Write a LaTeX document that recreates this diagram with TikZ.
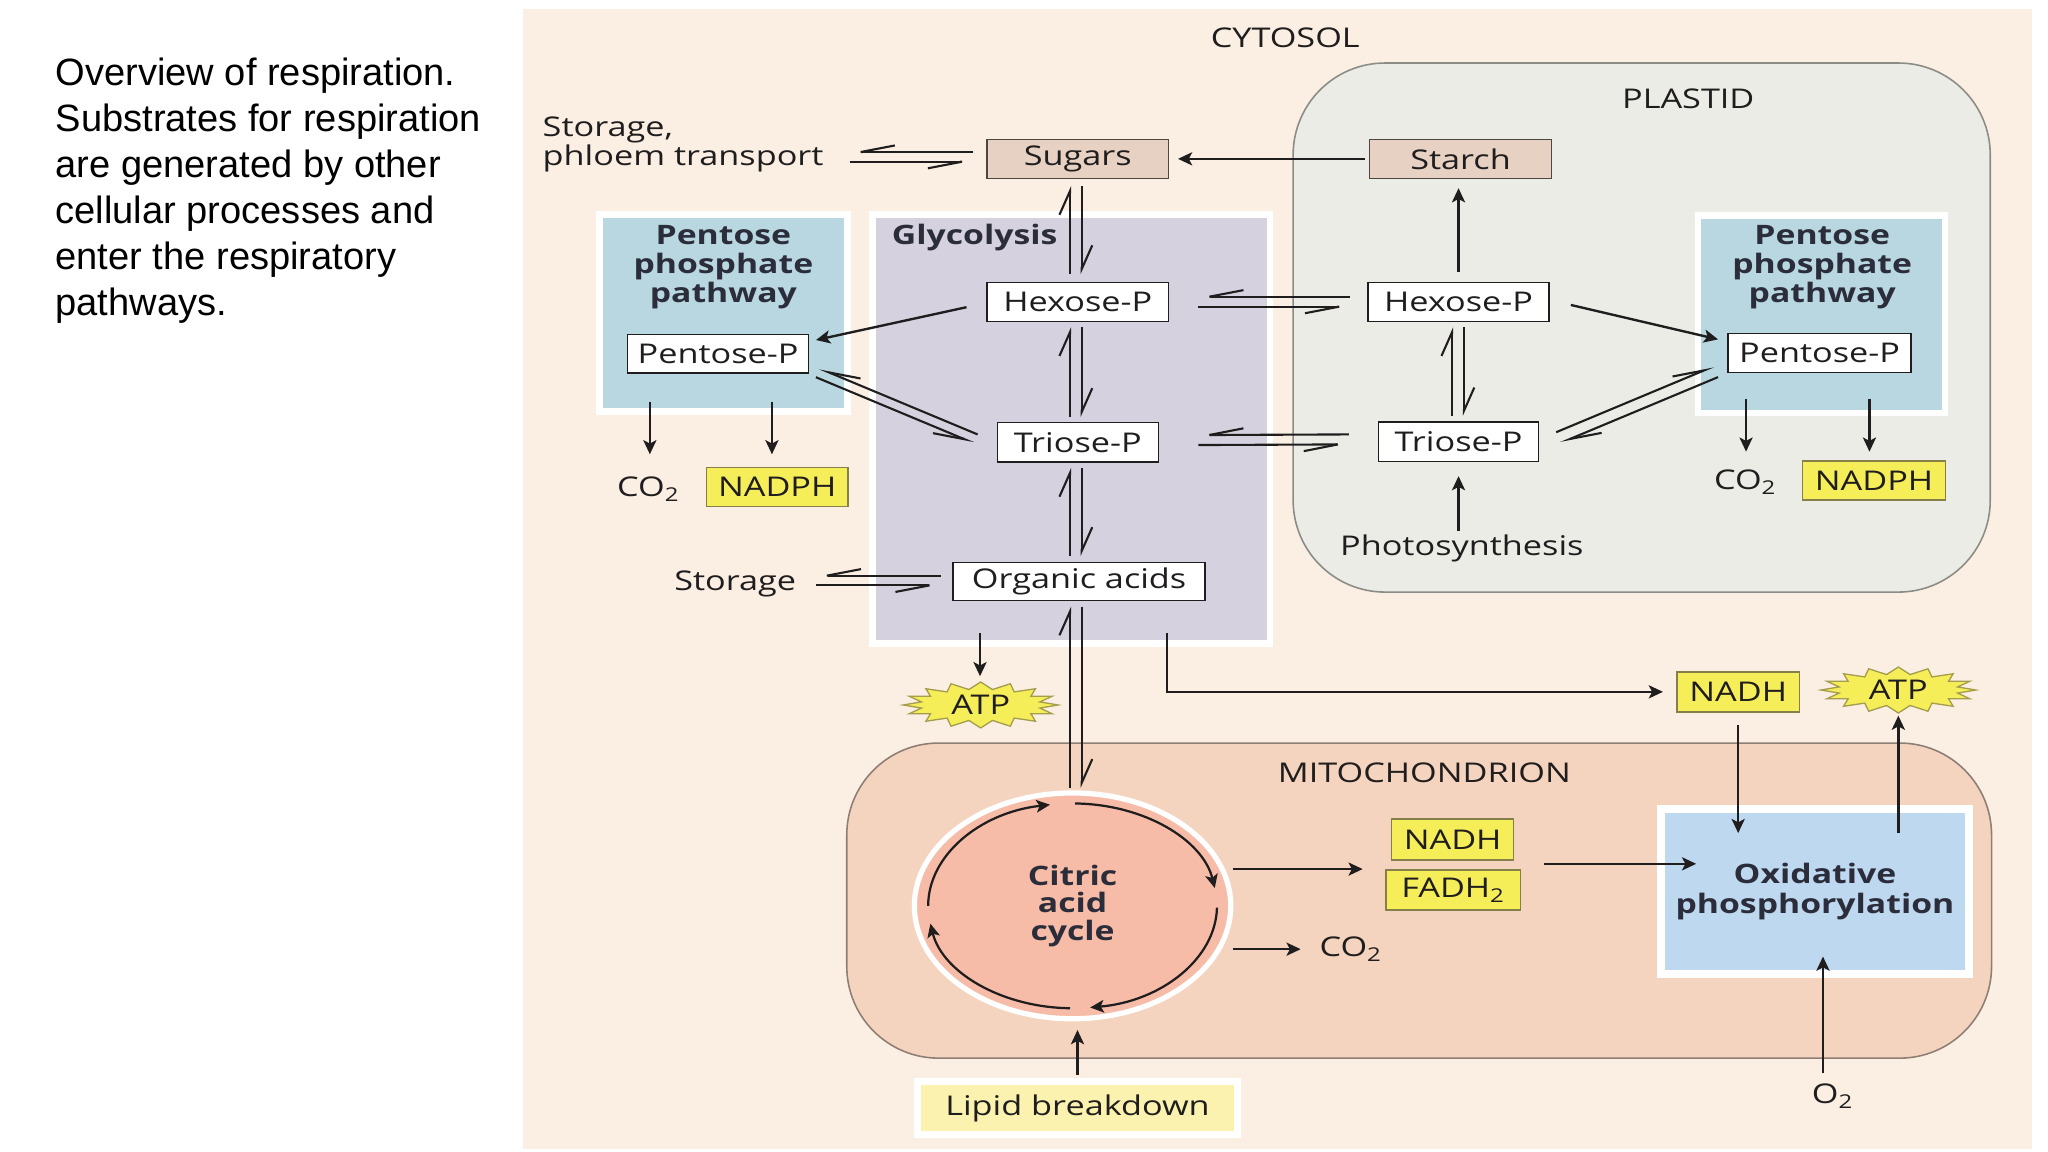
\documentclass[tikz,border=0pt]{standalone}
\usepackage{fontspec}
\setmainfont{Open Sans}[FakeStretch=1.26]
\newfontfamily\capfont{Liberation Sans}
\usetikzlibrary{arrows.meta,calc,shapes.geometric}
\definecolor{cyto}{HTML}{FBEFE3}
\definecolor{plastidc}{HTML}{ECECE7}
\definecolor{plastidl}{HTML}{8C8C86}
\definecolor{mitoc}{HTML}{F5D4BF}
\definecolor{mitol}{HTML}{8E7E74}
\definecolor{glycoc}{HTML}{D5D1DF}
\definecolor{pppc}{HTML}{B8D7E0}
\definecolor{oxc}{HTML}{BED8EF}
\definecolor{tcac}{HTML}{F6BCA7}
\definecolor{tanc}{HTML}{E7D1C3}
\definecolor{tanl}{HTML}{4E4641}
\definecolor{yelc}{HTML}{F6EE58}
\definecolor{yell}{HTML}{85804A}
\definecolor{lipidc}{HTML}{FAF2AE}
\definecolor{burstl}{HTML}{A39D4C}
\definecolor{ink}{HTML}{1F1D1D}
\definecolor{titlec}{HTML}{2B2D3B}
\newcommand{\pairL}[4]{%
  \draw[#1] ($(#3)!#2!90:(#4)$) -- ($(#4)!#2!-90:(#3)$);
  \draw[#1] ($(#4)!#2!90:(#3)$) -- ($(#3)!#2!-90:(#4)$);}
\newcommand{\pairR}[4]{%
  \draw[#1] ($(#3)!#2!-90:(#4)$) -- ($(#4)!#2!90:(#3)$);
  \draw[#1] ($(#4)!#2!-90:(#3)$) -- ($(#3)!#2!90:(#4)$);}
\newcommand{\burst}[2]{%
  \begin{scope}[shift={(#1,#2)}]
  \filldraw[fill=yelc, draw=burstl, line width=0.5pt]
    plot[samples at={0,...,31}, variable=\sn]
    ({(mod(\sn,2)==0 ? 59 : 46)*cos(\sn*11.25)}, {(mod(\sn,2)==0 ? 17.5 : 12)*sin(\sn*11.25)}) -- cycle;
  \end{scope}}
\begin{document}
\begin{tikzpicture}[x=0.5pt,y=-0.5pt,
  every node/.style={text=ink, font=\fontsize{10.35}{11}\selectfont},
  lbl/.style={inner sep=0pt},
  ttl/.style={inner sep=0pt, text=titlec, font=\fontsize{10.2}{11}\selectfont\bfseries, align=center},
  wbox/.style={draw=ink, line width=0.55pt, fill=white, inner sep=0pt, minimum height=14.8pt},
  tbox/.style={wbox, fill=tanc, draw=tanl},
  ybox/.style={wbox, fill=yelc, draw=yell},
  arr/.style={draw=ink, line width=0.9pt, -{Stealth[length=5.4pt, width=5pt, inset=1.3pt]}},
  cyc/.style={draw=ink, line width=0.85pt, -{Stealth[length=5.2pt, width=4.8pt, inset=1.2pt]}},
  hv/.style={draw=ink, line width=0.8pt, -{Straight Barb[left, length=9pt, width=8pt]}},
  hh/.style={draw=ink, line width=0.8pt, -{Straight Barb[right, length=13pt, width=5pt]}},
  hdr/.style={draw=ink, line width=0.8pt, -{Straight Barb[right, length=12pt, width=5pt]}},
  hdl/.style={draw=ink, line width=0.8pt, -{Straight Barb[left, length=12pt, width=5pt]}},
  captxt/.style={anchor=base west, inner sep=0pt, text=black, font=\capfont\fontsize{14.5}{17}\selectfont}
]
\useasboundingbox (0,0) rectangle (1560,877.5);
\fill[white] (0,0) rectangle (1560,877.5);
% caption
\node[captxt] (c1) at (42,65.5) {Overview of respiration.};
\node[captxt] (c2) at (42,100.4) {Substrates for respiration};
\node[captxt] (c3) at (42,135.3) {are generated by other};
\node[captxt] (c4) at (42,170.2) {cellular processes and};
\node[captxt] (c5) at (42,205.1) {enter the respiratory};
\node[captxt] (c6) at (42,240) {pathways.};
% compartments
\fill[cyto] (398,7) rectangle (1548,875);
\node[lbl] (cytolbl) at (979,28.7) {CYTOSOL};
\draw[fill=plastidc, draw=plastidl, line width=0.6pt, rounded corners=35pt] (985,48) rectangle (1516,451);
\node[lbl] (plastlbl) at (1286,75) {PLASTID};
\draw[fill=mitoc, draw=mitol, line width=0.6pt, rounded corners=35pt] (645,566) rectangle (1517,806);
\node[lbl] (mitolbl) at (1085,589) {MITOCHONDRION};
\draw[fill=glycoc, draw=white, line width=2.5pt] (664.5,163.5) rectangle (967.5,490);
\node[ttl, anchor=west] (glylbl) at (679,181) {Glycolysis};
\draw[fill=pppc, draw=white, line width=2.5pt] (456.5,163.5) rectangle (645.5,313.5);
\draw[fill=pppc, draw=white, line width=2.5pt] (1293.5,164) rectangle (1481.5,314.5);
\node[ttl] (pppLt) at (551,203.5) {Pentose\\phosphate\\pathway};
\node[ttl] (pppRt) at (1388,203.5) {Pentose\\phosphate\\pathway};
% boxes
\node[tbox, minimum width=69.25pt] (sugars) at (821,121) {Sugars};
\node[tbox, minimum width=69.5pt] (starch) at (1112.5,121) {Starch};
\node[wbox, minimum width=69.25pt] (hexc) at (821,230) {Hexose-P};
\node[wbox, minimum width=61.25pt, minimum height=15pt] (trioc) at (821,337) {Triose-P};
\node[wbox, minimum width=96pt, minimum height=14.6pt] (org) at (822,443) {Organic acids};
\node[wbox, minimum width=69pt] (hexp) at (1111,230) {Hexose-P};
\node[wbox, minimum width=61pt, minimum height=15pt] (triop) at (1111,336.5) {Triose-P};
\node[wbox, minimum width=69pt, minimum height=14.5pt] (pentl) at (547,269.5) {Pentose-P};
\node[wbox, minimum width=69.8pt] (pentr) at (1386,269) {Pentose-P};
\node[ybox, minimum width=54pt, minimum height=15pt] (nadphl) at (592,371) {NADPH};
\node[ybox, minimum width=54.5pt, minimum height=15pt] (nadphr) at (1427.5,366) {NADPH};
\node[ybox, minimum width=46.75pt, minimum height=15.25pt] (nadh1) at (1324,527) {NADH};
\node[ybox, minimum width=46.5pt, minimum height=15.5pt] (nadh2) at (1106.5,639.5) {NADH};
\node[ybox, minimum width=51.25pt, minimum height=15.3pt] (fadh) at (1107,678) {FADH\textsubscript{2}};
% labels
\node[lbl] (co2l) at (494,372.5) {CO\textsubscript{2}};
\node[lbl] (co2r) at (1329.5,367.5) {CO\textsubscript{2}};
\node[lbl] (co2m) at (1029,723) {CO\textsubscript{2}};
\node[lbl] (o2) at (1396,835) {O\textsubscript{2}};
\node[lbl, anchor=west, align=left, font=\fontsize{10.35}{10.3}\selectfont] (phloem) at (413,110) {Storage,\\phloem transport};
\node[lbl] (storage) at (560,445) {Storage};
\node[lbl] (photo) at (1113.5,417.6) {Photosynthesis};
% big nodes
\node[ellipse, fill=tcac, draw=white, line width=2pt, minimum width=120.5pt, minimum height=86pt, inner sep=0pt, text=titlec, font=\fontsize{10.2}{10.5}\selectfont\bfseries, align=center] (tca) at (817,690) {Citric\\acid\\cycle};
\node[fill=oxc, draw=white, line width=3pt, minimum width=117.5pt, minimum height=63pt, inner sep=0pt, text=titlec, font=\fontsize{10.2}{11.3}\selectfont\bfseries, align=center] (oxphos) at (1382.5,679) {Oxidative\\phosphorylation};
\node[fill=lipidc, draw=white, line width=2.5pt, minimum width=121.75pt, minimum height=20pt, inner sep=0pt] (lipid) at (820.75,844) {Lipid breakdown};
\burst{747}{537}
\node[lbl, minimum width=59pt, minimum height=17.5pt] (atp1) at (747,537) {ATP};
\burst{1446}{525.6}
\node[lbl, minimum width=59pt, minimum height=16.5pt] (atp2) at (1446,525.6) {ATP};
% simple arrows
\draw[arr, shorten <=1.5pt, shorten >=3.25pt] (starch.west) -- (sugars.east);
\draw[arr, shorten <=3.75pt, shorten >=3.5pt] (hexp.north) -- (hexp.north |- starch.south);
\draw[arr, shorten <=1.3pt, shorten >=5.3pt] (triop.south |- photo.north) -- (triop.south);
\draw[arr] ($(hexc.west)+(-15,4)$) -- ($(pentl.east)+(5,-10.5)$);
\draw[arr] ($(hexp.east)+(16,2.3)$) -- ($(pentr.west)+(-7,-10.5)$);
\coordinate (pl1) at (495,306);
\coordinate (pl2) at (588,306);
\draw[arr, shorten >=4.7pt] (pl1) -- (pl1 |- nadphl.north);
\draw[arr, shorten >=4.7pt] (pl2) -- (pl2 |- nadphl.north);
\coordinate (pr1) at (1330,304);
\coordinate (pr2) at (1424,304);
\draw[arr, shorten >=3.2pt] (pr1) -- (pr1 |- nadphr.north);
\draw[arr, shorten >=3.2pt] (pr2) -- (pr2 |- nadphr.north);
\coordinate (gatp) at (746.5,482);
\draw[arr, shorten >=2pt] (gatp) -- (gatp |- atp1.north);
\coordinate (gnadh) at (889,482);
\draw[arr, shorten >=5pt] (gnadh) |- (nadh1.west);
\draw[arr, shorten <=4.9pt, shorten >=-10.8pt] (nadh1.south) -- (nadh1.south |- oxphos.north);
\draw[arr, shorten <=-10.8pt, shorten >=1.3pt] (atp2.south |- oxphos.north) -- (atp2.south);
\coordinate (o2a) at ([xshift=-3.7pt]o2.north);
\draw[arr, shorten <=4pt, shorten >=-8.2pt] (o2a) -- (o2a |- oxphos.south);
\draw[arr, shorten <=1.25pt, shorten >=3.3pt] (lipid.north) -- (lipid.north |- tca.south);
\coordinate (nfl) at (1038,662);
\draw[arr] (tca.east |- nfl) -- (nfl);
\draw[arr, shorten >=7pt] (tca.east |- co2m.west) -- (co2m.west);
\coordinate (nfr) at (1176,658);
\draw[arr, shorten >=-15pt] (nfr) -- (nfr -| oxphos.west);
% cycle arcs
\foreach \a/\b in {180/261, 271/350, 1/83, 91/170} {
  \draw[cyc] ($(tca.center)+({110*cos(\a)},{78*sin(\a)})$) arc[start angle=\a, end angle=\b, x radius=110, y radius=78];
}
% equilibrium harpoon pairs
\coordinate (ph1) at ($(sugars.west)+(-104,-1.5)$);
\coordinate (ph2) at ($(sugars.west)+(-10,-1.5)$);
\pairR{hh}{1.85pt}{ph1}{ph2}
\coordinate (st1) at ($(org.west)+(-104,-0.8)$);
\coordinate (st2) at ($(org.west)+(-9,-0.8)$);
\pairR{hh}{1.85pt}{st1}{st2}
\coordinate (hx1) at ($(hexc.east)+(22,-0.2)$);
\coordinate (hx2) at ($(hexp.west)+(-13,-0.2)$);
\pairR{hh}{1.9pt}{hx1}{hx2}
\coordinate (tr1) at ($(trioc.east)+(30,-1.8)$);
\coordinate (tr2) at ($(triop.west)+(-22,-1.8)$);
\pairR{hh}{1.9pt}{tr1}{tr2}
\coordinate (v1a) at ($(sugars.south)+(-1.5,5.5)$);
\coordinate (v1b) at ($(hexc.north)+(-1.5,-6)$);
\pairL{hv}{2.25pt}{v1a}{v1b}
\coordinate (v2a) at ($(hexc.south)+(-1.5,4)$);
\coordinate (v2b) at ($(trioc.north)+(-1.5,-4)$);
\pairL{hv}{2.25pt}{v2a}{v2b}
\coordinate (v3a) at ($(trioc.south)+(-1.5,4)$);
\coordinate (v3b) at ($(org.north)+(-2.5,-4.5)$);
\pairL{hv}{2.25pt}{v3a}{v3b}
\coordinate (v4a) at ($(org.south)+(-2.5,4)$);
\coordinate (v4b) at ($(tca.north)+(2.5,-2)$);
\pairL{hv}{2.25pt}{v4a}{v4b}
\coordinate (v5a) at ($(hexp.south)+(-0.5,4)$);
\coordinate (v5b) at ($(triop.north)+(-0.5,-4)$);
\pairL{hv}{2.25pt}{v5a}{v5b}
\coordinate (dl1) at ($(pentl.east)+(6.3,14.5)$);
\coordinate (dl2) at ($(trioc.west)+(-15.9,-2.75)$);
\pairR{hdr}{1.8pt}{dl1}{dl2}
\coordinate (dr1) at ($(triop.east)+(14.5,-3.2)$);
\coordinate (dr2) at ($(pentr.west)+(-8.7,14.2)$);
\pairL{hdl}{2.2pt}{dr1}{dr2}
\end{tikzpicture}
\end{document}
